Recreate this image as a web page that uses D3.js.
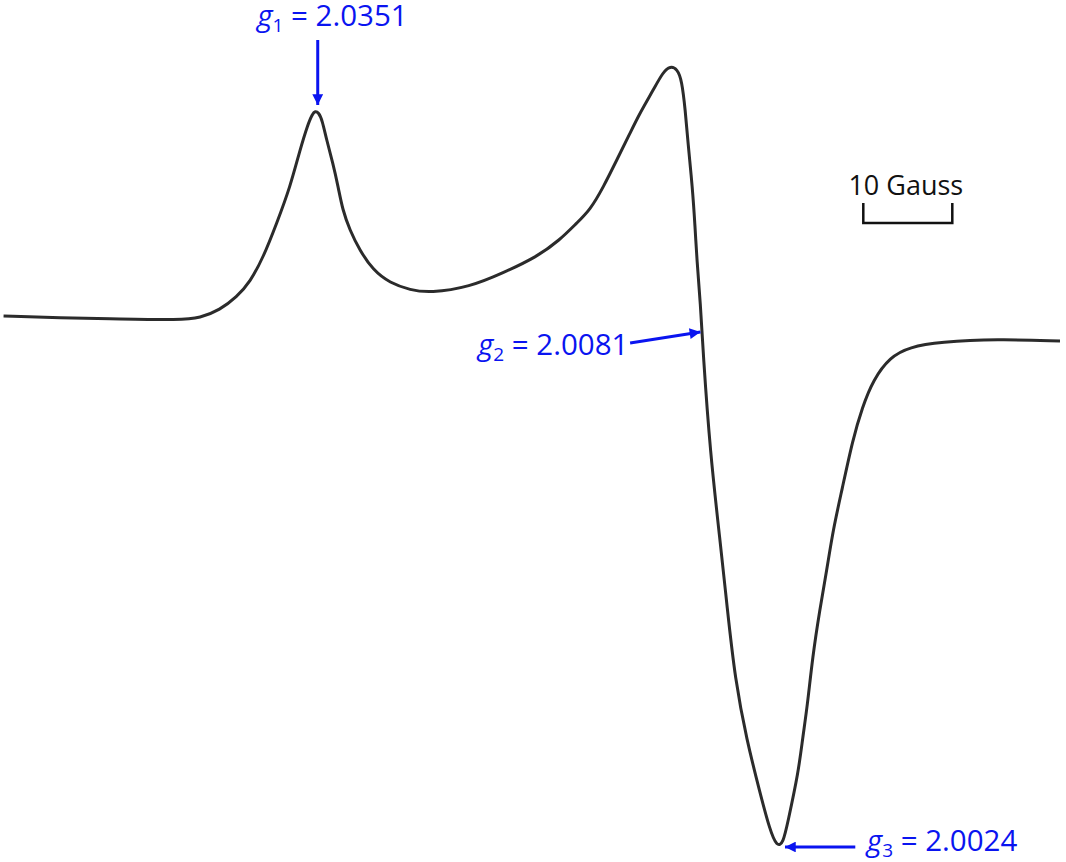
<!DOCTYPE html>
<html>
<head>
<meta charset="utf-8">
<script src="https://cdn.jsdelivr.net/npm/d3@7"></script>
<style>
  html, body { margin: 0; padding: 0; background: #fff; }
  svg { display: block; }
  text { font-family: "Open Sans", "Noto Sans", sans-serif; }
</style>
</head>
<body>
<script>
// EPR spectrum, field in Gauss (relative), signal in arbitrary units
const field = [0.4, 6.7, 13.5, 20.2, 22.5, 24.7, 26.6, 28.1, 29.6, 31.1, 32.6, 33.7, 34.6, 35.1, 35.4, 35.8,
  36.2, 36.7, 37.4, 38.0, 38.5, 39.3, 40.4, 41.9, 43.8, 46.1, 48.3, 52.8, 56.5, 60.3, 62.9, 64.8, 66.3,
  67.8, 69.3, 70.8, 71.9, 73.4, 74.5, 75.3, 76.1, 76.6, 77.0, 77.3, 77.8, 78.1, 78.3, 78.7, 79.0, 79.8,
  80.9, 81.7, 82.6, 83.9, 85.4, 86.5, 87.3, 88.0, 88.5, 89.7, 90.2, 90.7, 91.3, 92.1, 92.9, 93.6, 94.6,
  95.8, 96.9, 98.1, 100.0, 102.2, 105.6, 112.0, 119.1];
const signal = [1.6, 0.8, 0.4, 0, 0.8, 4, 9.2, 15.2, 25.2, 38.8, 53.2, 68, 78.4, 82.4, 83.6, 83.0,
  80, 72, 62.8, 53.2, 44, 36, 28, 20, 14.8, 12, 10.8, 13.2, 18.8, 25.2, 32, 38.8, 44,
  53.2, 64, 74.8, 82.8, 92, 99.2, 101.6, 100.4, 96, 84, 70.8, 53.2, 37.2, 24, 6.8, -13.2, -53.2,
  -88, -114.8, -144, -168, -189.2, -204, -210.8, -209.2, -201.2, -181.2, -166.8, -154.8, -134.8, -116, -100, -84, -68,
  -48, -34.8, -24, -14.8, -10.8, -8.8, -7.6, -8.4];

// g-value annotations: label, arrow start (field, signal), arrow tip, label anchor
const gLabels = ["1", "2", "3"];
const gValues = ["2.0351", "2.0081", "2.0024"];
const arrowFrom = [[35.7, 112], [70.8, -9.2], [96.1, -210.8]];
const arrowTo = [[35.7, 86], [78.7, -4.8], [88.2, -210.8]];
const labelAt = [[28.9, 117.6], [53.7, -14], [97.4, -212.4]];

// scale bar
const scaleBarField = [97, 107];
const scaleBarText = "10 Gauss";

const width = 1066, height = 862;
const x = d3.scaleLinear().domain([0, 120]).range([0, 1068]);
const y = d3.scaleLinear().domain([0, 100]).range([320, 70]);

const svg = d3.select("body").append("svg")
  .attr("width", width).attr("height", height);

const blue = "#0a14f0";

svg.append("defs").append("marker")
  .attr("id", "head")
  .attr("viewBox", "0 0 10 10")
  .attr("refX", 10).attr("refY", 5)
  .attr("markerWidth", 4.2).attr("markerHeight", 3.6)
  .attr("markerUnits", "strokeWidth")
  .attr("orient", "auto")
  .append("path").attr("d", "M0,0 L10,5 L0,10 Z").attr("fill", blue);

const pts = field.map((f, i) => [f, signal[i]]);

// basis curve smooths out the small reading errors of the traced points
svg.append("path")
  .datum(pts)
  .attr("d", d3.line().x(d => x(d[0])).y(d => y(d[1])).curve(d3.curveBasis))
  .attr("fill", "none")
  .attr("stroke", "#2b2b2b")
  .attr("stroke-width", 3)
  .attr("stroke-linejoin", "round");

// arrows
svg.selectAll("line.arrow")
  .data(gLabels)
  .enter().append("line")
  .attr("class", "arrow")
  .attr("x1", (d, i) => x(arrowFrom[i][0]))
  .attr("y1", (d, i) => y(arrowFrom[i][1]))
  .attr("x2", (d, i) => x(arrowTo[i][0]))
  .attr("y2", (d, i) => y(arrowTo[i][1]))
  .attr("stroke", blue)
  .attr("stroke-width", 3)
  .attr("marker-end", "url(#head)");

// labels
const lab = svg.selectAll("text.g")
  .data(gLabels)
  .enter().append("text")
  .attr("class", "g")
  .attr("x", (d, i) => x(labelAt[i][0]))
  .attr("y", (d, i) => y(labelAt[i][1]))
  .attr("fill", blue)
  .style("font-size", "29.5px");
lab.append("tspan").attr("font-style", "italic").text("g");
lab.append("tspan").attr("dy", 6).style("font-size", "19px").text(d => d);
lab.append("tspan").attr("dy", -6).text((d, i) => " = " + gValues[i]);

// scale bar
const sb = svg.append("g");
sb.append("path")
  .attr("d", "M" + x(scaleBarField[0]) + "," + y(46.8) +
    "V" + y(38.8) + "H" + x(scaleBarField[1]) + "V" + y(46.8))
  .attr("fill", "none")
  .attr("stroke", "#111")
  .attr("stroke-width", 2.5);
sb.append("text")
  .attr("x", (x(scaleBarField[0]) + x(scaleBarField[1])) / 2 - 2)
  .attr("y", y(50))
  .attr("text-anchor", "middle")
  .attr("fill", "#111")
  .style("font-size", "27px")
  .text(scaleBarText);
</script>
</body>
</html>
